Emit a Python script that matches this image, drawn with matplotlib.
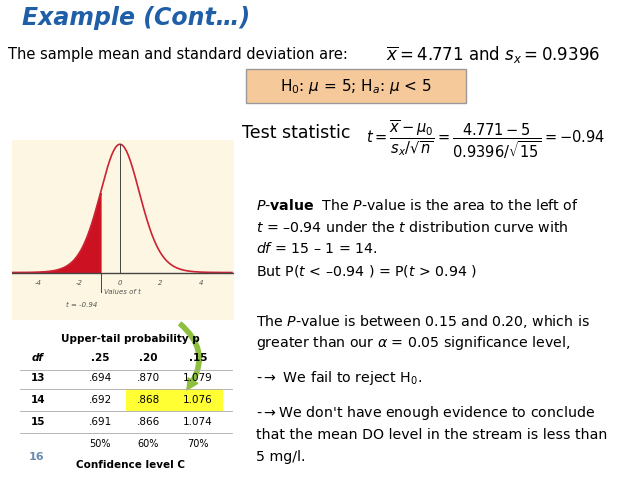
import matplotlib
matplotlib.use("Agg")
import matplotlib.pyplot as plt
import numpy as np
from math import gamma, pi, sqrt
from matplotlib.patches import Rectangle, FancyArrowPatch

df_t = 14
t_stat = -0.94
tick_vals = [-4, -2, 0, 2, 4]
tbl_cols = ["df", ".25", ".20", ".15"]
tbl_rows = [["13", ".694", ".870", "1.079"],
            ["14", ".692", ".868", "1.076"],
            ["15", ".691", ".866", "1.074"]]
conf = ["50%", "60%", "70%"]

W, H = 638, 479
fig = plt.figure(figsize=(6.38, 4.79), dpi=100)
def fx(x): return x / W
def fy(y): return 1 - y / H

fig.text(fx(22), fy(18), "Example (Cont…)", fontsize=17, fontweight="bold", style="italic", color="#1f5fa8", va="center")
fig.text(fx(8), fy(55), "The sample mean and standard deviation are:", fontsize=10.5, va="center")
fig.text(fx(386), fy(55), r"$\overline{x}=4.771$ and $s_x=0.9396$", fontsize=12, va="center", ha="left")
fig.patches.append(Rectangle((fx(246), fy(103)), fx(220), 34/H, transform=fig.transFigure, facecolor="#f6c99b", edgecolor="#999999"))
fig.text(fx(356), fy(86), r"H$_0$: $\mu$ = 5; H$_a$: $\mu$ < 5", fontsize=11, ha="center", va="center")
fig.text(fx(242), fy(133), "Test statistic", fontsize=12.5, va="center")
fig.text(fx(366), fy(140), r"$t=\dfrac{\overline{x}-\mu_0}{s_x/\sqrt{n}}=\dfrac{4.771-5}{0.9396/\sqrt{15}}=-0.94$", fontsize=10.5, va="center")

ax = fig.add_axes([fx(12), fy(320), fx(222), 180/H])
x = np.linspace(-5.5, 5.5, 500)
c = gamma((df_t + 1) / 2) / (sqrt(df_t * pi) * gamma(df_t / 2))
y = c * (1 + x**2 / df_t) ** (-(df_t + 1) / 2)
ax.plot(x, y, color="#cc2233", lw=1.2)
m = x <= t_stat
ax.fill_between(x[m], 0, y[m], color="#cc1122")
ax.axhline(0, color="#444444", lw=1)
ax.plot([0, 0], [0, c], color="#444444", lw=0.7)
ax.plot([t_stat, t_stat], [-0.06, 0], color="#444444", lw=0.7)
for tv in tick_vals:
    ax.text(tv, -0.022, str(tv), fontsize=5, ha="center", va="top", style="italic", color="#555555")
ax.text(-0.8, -0.06, "Values of t", fontsize=5, style="italic", color="#555555", va="center")
ax.text(-1.1, -0.1, "t = -0.94", fontsize=5, style="italic", color="#555555", va="center", ha="right")
ax.set_xlim(-5.3, 5.6)
ax.set_ylim(-0.145, 0.405)
ax.axis("off")
ax.add_patch(Rectangle((-5.3, -0.145), 10.9, 0.55, facecolor="#fdf6e3", zorder=-1))

fig.text(fx(130), fy(339), "Upper-tail probability p", fontsize=7.5, fontweight="bold", ha="center", va="center")
col_x = [38, 100, 148, 198]
fig.patches.append(Rectangle((fx(126), fy(411)), fx(97), 22/H, transform=fig.transFigure, facecolor="#ffff33", edgecolor="none"))
for j, cname in enumerate(tbl_cols):
    fig.text(fx(col_x[j]), fy(358), cname, fontsize=7.5, fontweight="bold", style="italic" if j == 0 else "normal", ha="center", va="center")
fig.lines.append(plt.Line2D([fx(20), fx(232)], [fy(370), fy(370)], transform=fig.transFigure, color="#aaaaaa", lw=0.6))
for i, row in enumerate(tbl_rows):
    yy = 378 + 22 * i
    for j, v in enumerate(row):
        fig.text(fx(col_x[j]), fy(yy), v, fontsize=7.5, fontweight="bold" if j == 0 else "normal", ha="center", va="center")
    fig.lines.append(plt.Line2D([fx(20), fx(232)], [fy(yy + 11), fy(yy + 11)], transform=fig.transFigure, color="#aaaaaa", lw=0.6))
for j, v in enumerate(conf):
    fig.text(fx(col_x[j + 1]), fy(444), v, fontsize=7, ha="center", va="center")
fig.text(fx(130), fy(465), "Confidence level C", fontsize=7.5, fontweight="bold", ha="center", va="center")
fig.text(fx(36), fy(457), "16", fontsize=8, color="#6a8caf", fontweight="bold", ha="center", va="center")
arr = FancyArrowPatch((fx(178), fy(322)), (fx(185), fy(392)), transform=fig.transFigure,
                      connectionstyle="arc3,rad=-0.5", arrowstyle="simple,head_width=8,head_length=8,tail_width=3",
                      color="#8fbf3f")
fig.patches.append(arr)

lines = [
    (205, r"$\bf{\it{P}}$-$\bf{value}$  The $\it{P}$-value is the area to the left of"),
    (227, r"$\it{t}$ = –0.94 under the $\it{t}$ distribution curve with"),
    (249, r"$\it{df}$ = 15 – 1 = 14."),
    (271, r"But P($\it{t}$ < –0.94 ) = P($\it{t}$ > 0.94 )"),
    (321, r"The $\it{P}$-value is between 0.15 and 0.20, which is"),
    (343, r"greater than our $\alpha$ = 0.05 significance level,"),
    (378, r"-$\rightarrow$ We fail to reject H$_0$."),
    (413, r"-$\rightarrow$We don't have enough evidence to conclude"),
    (435, r"that the mean DO level in the stream is less than"),
    (457, r"5 mg/l."),
]
for yy, s in lines:
    fig.text(fx(256), fy(yy), s, fontsize=10.2, va="center")

fig.savefig("out.png", dpi=100, facecolor="white")
